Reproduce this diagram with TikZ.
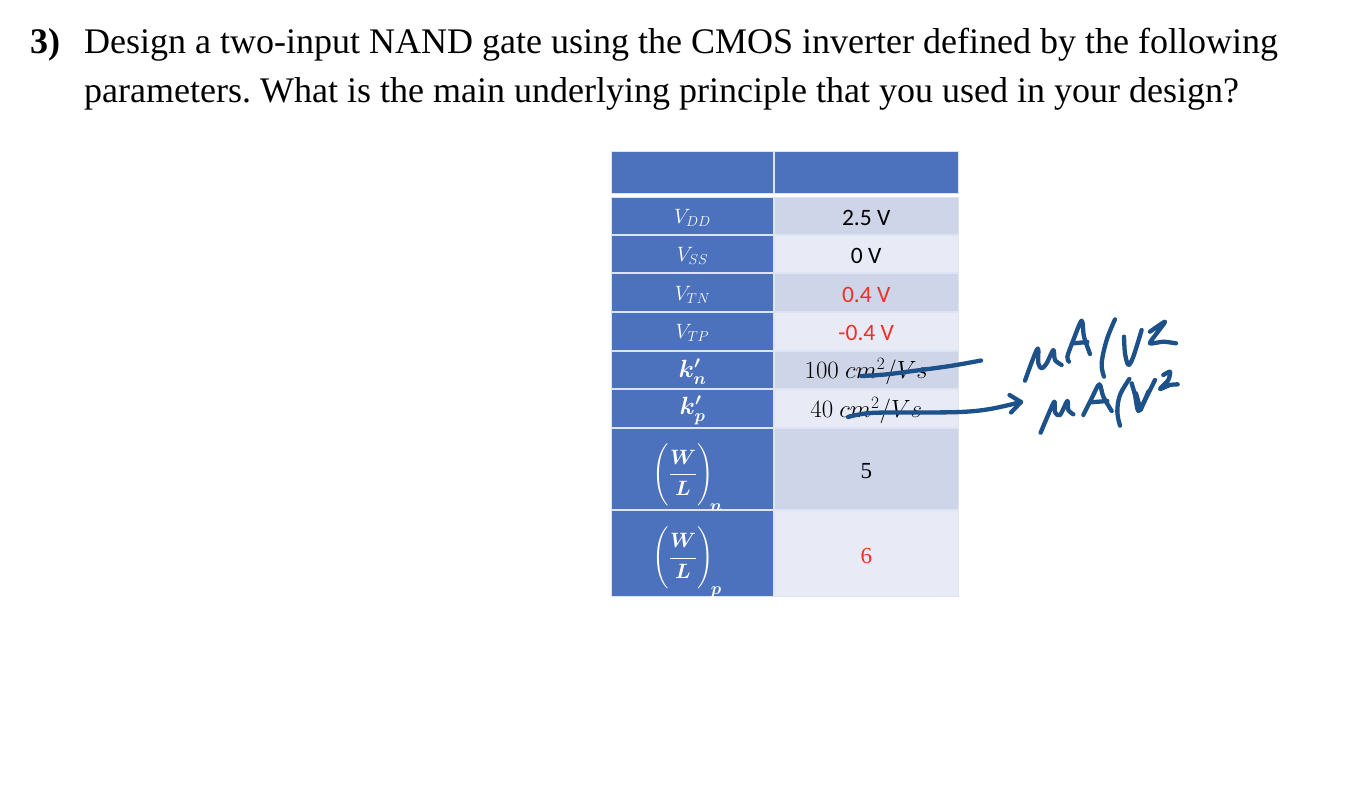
\documentclass[tikz,border=0pt]{standalone}
\usepackage{fontspec}
\usepackage{amsmath}
\setmainfont{Liberation Serif}
\newfontfamily\calfont{Carlito}
\definecolor{hdr}{HTML}{4C72BD}
\definecolor{rowa}{HTML}{CFD5E8}
\definecolor{rowb}{HTML}{E8EBF5}
\definecolor{redv}{HTML}{EE3124}
\definecolor{ink}{HTML}{1D5189}
\definecolor{edge}{HTML}{DCE3F2}
\newcommand{\cellbox}[7]{% name x1 y1 x2 y2 fill content
  \pgfmathsetmacro{\cw}{#4-#2}\pgfmathsetmacro{\ch}{#5-#3}
  \pgfmathsetmacro{\cx}{(#2+#4)/2}\pgfmathsetmacro{\cy}{(#3+#5)/2}
  \node[cellstyle,fill=#6,minimum width=\cw pt,minimum height=\ch pt] (#1) at (\cx,\cy) {\vbox{\kern4pt\hbox{#7}}};}
\newcommand{\lhsmath}[1]{\textcolor{white}{\fontsize{22}{22}\selectfont$#1$}}
\newcommand{\lhsbold}[1]{\textcolor{white}{\fontsize{24}{24}\selectfont\boldmath$#1$}}
\newcommand{\valtxt}[1]{{\calfont\fontsize{23.5}{23.5}\selectfont #1}}
\newcommand{\valmath}[1]{{\fontsize{25}{25}\selectfont$#1$}}
\newcommand{\wl}{\textcolor{white}{\fontsize{22}{22}\selectfont\boldmath$\left(\rule[-26pt]{0pt}{57pt}\dfrac{W}{L}\right)$}}
\tikzset{
  cellstyle/.style={draw=edge,line width=0.6pt,inner sep=0pt,outer sep=0pt,text=black},
  qline/.style={anchor=base west,inner sep=0pt,font=\fontsize{36}{36}\selectfont},
  pen/.style={draw=ink,line width=4.3pt,line cap=round,line join=round},
  subsc/.style={inner sep=0pt,anchor=base,text=white,font=\fontsize{17}{17}\selectfont\boldmath}
}
\begin{document}
\begin{tikzpicture}[x=1pt,y=-1pt]
\useasboundingbox[fill=white] (0,0) rectangle (1360,788);
\node[qline] (num) at (30,53) {\textbf{3)}};
\node[qline] (l1) at (84,53) {Design a two-input NAND gate using the CMOS inverter defined by the following};
\node[qline] (l2) at (84,102) {\frenchspacing parameters. What is the main underlying principle that you used in your design?};
% table
\cellbox{h1}{611.5}{151.5}{773.5}{193.5}{hdr}{}
\cellbox{h2}{774.5}{151.5}{958}{193.5}{hdr}{}
\cellbox{a1}{611.5}{197.5}{773.5}{234}{hdr}{\lhsmath{V_{DD}}}
\cellbox{a2}{611.5}{235}{773.5}{272.5}{hdr}{\lhsmath{V_{SS}}}
\cellbox{a3}{611.5}{273.5}{773.5}{311.5}{hdr}{\lhsmath{V_{TN}}}
\cellbox{a4}{611.5}{312.5}{773.5}{350}{hdr}{\lhsmath{V_{TP}}}
\cellbox{a5}{611.5}{351}{773.5}{388.5}{hdr}{\lhsbold{k'_n}}
\cellbox{a6}{611.5}{389.5}{773.5}{427.5}{hdr}{\lhsbold{k'_p}}
\cellbox{a7}{611.5}{428.5}{773.5}{509.5}{hdr}{}
\node[inner sep=0pt] (f7) at (683,474.5) {\wl};
\node[subsc] (s7) at (716,511) {$n$};
\cellbox{a8}{611.5}{510.5}{773.5}{596.5}{hdr}{}
\node[inner sep=0pt] (f8) at (683,558) {\wl};
\begin{scope}
\clip (700,570) rectangle (740,596);
\node[subsc] (s8) at (716,594) {$p$};
\end{scope}
\cellbox{b1}{774.5}{197.5}{958}{234}{rowa}{\valtxt{2.5 V}}
\cellbox{b2}{774.5}{235}{958}{272.5}{rowb}{\valtxt{0 V}}
\cellbox{b3}{774.5}{273.5}{958}{311.5}{rowa}{\textcolor{redv}{\valtxt{0.4 V}}}
\cellbox{b4}{774.5}{312.5}{958}{350}{rowb}{\textcolor{redv}{\valtxt{-0.4 V}}}
\cellbox{b5}{774.5}{351}{958}{388.5}{rowa}{\valmath{100\ cm^2/Vs}}
\cellbox{b6}{774.5}{389.5}{958}{427.5}{rowb}{\valmath{40\ cm^2/Vs}}
\cellbox{b7}{774.5}{428.5}{958}{509.5}{rowa}{{\fontsize{23}{23}\selectfont 5}}
\cellbox{b8}{774.5}{510.5}{958}{596.5}{rowb}{\textcolor{redv}{\fontsize{23}{23}\selectfont 6}}
% strike-through strokes
\coordinate (s1a) at (861,376);
\coordinate (s1b) at (981,360.5);
\draw[pen] plot[smooth,tension=.6] coordinates {(s1a) (885,374.5) (913,371) (950,366) (s1b)};
\coordinate (s2a) at (848,417);
\coordinate (s2b) at (1021,402);
\draw[pen] plot[smooth,tension=.6] coordinates {(s2a) (870,413) (913,412.5) (960,412) (990,409) (s2b)};
\draw[pen] (1009.5,395) -- (s2b) -- (1011,412.5);
% handwritten units, first line
\begin{scope}[shift={(1010,300)},x=.3333pt,y=-.3333pt]
\draw[pen] plot[smooth,tension=.5] coordinates {(45,242) (62,195) (80,150) (85,150) (85,190) (95,205) (110,190) (130,150) (135,180) (155,195)};
\draw[pen] plot[smooth,tension=.5] coordinates {(177,185) (172,170) (190,120) (215,62) (222,110) (240,162)};
\draw[pen] (190,130) -- (232,126);
\draw[pen] plot[smooth,tension=.6] coordinates {(315,58) (290,120) (275,190) (282,230)};
\draw[pen] plot[smooth,tension=.5] coordinates {(342,110) (345,160) (355,195) (370,170) (395,90)};
\draw[pen] plot[smooth,tension=.4] coordinates {(420,95) (465,65) (440,100) (420,130) (460,125) (498,130)};
\end{scope}
% handwritten units, second line
\begin{scope}[shift={(1010,325)},x=.3333pt,y=-.3333pt]
\draw[pen] plot[smooth,tension=.5] coordinates {(92,323) (110,280) (133,230) (135,262) (150,270) (172,228) (175,255) (190,268)};
\draw[pen] plot[smooth,tension=.5] coordinates {(220,270) (245,220) (268,178) (280,215) (305,258)};
\draw[pen] (240,232) -- (292,228);
\draw[pen] plot[smooth,tension=.6] coordinates {(358,162) (330,210) (322,260) (330,302)};
\draw[pen] plot[smooth,tension=.5] coordinates {(365,175) (375,210) (385,258) (405,225) (435,165)};
\draw[pen] (378,205) -- (392,255) -- (415,200);
\draw[pen] plot[smooth,tension=.4] coordinates {(460,150) (480,140) (475,165) (450,192) (480,180) (503,178)};
\end{scope}
\end{tikzpicture}
\end{document}
